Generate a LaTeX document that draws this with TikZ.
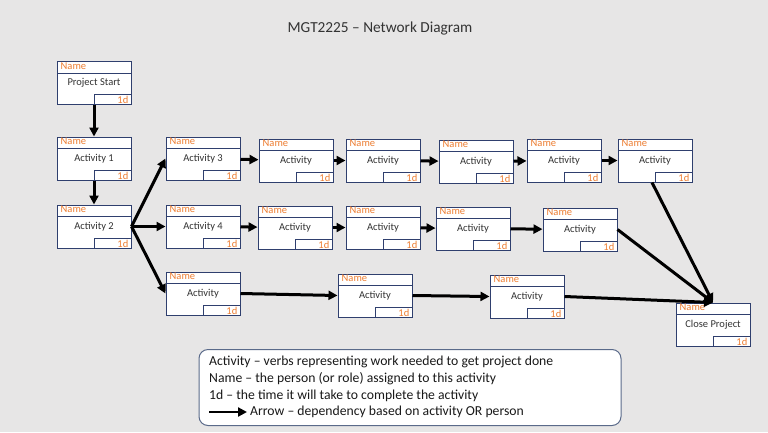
\documentclass[tikz,border=0pt]{standalone}
\usepackage{fontspec}
\setmainfont{Carlito}
\usetikzlibrary{arrows.meta,positioning}
\definecolor{bggray}{HTML}{E7E6E6}
\definecolor{boxline}{HTML}{2F3F6E}
\definecolor{nameorange}{HTML}{ED7D31}
\definecolor{txtgray}{HTML}{333333}
\definecolor{keyline}{HTML}{5A6A8A}

\begin{document}
\begin{tikzpicture}[x=1pt, y=-1pt,
  smallorange/.style={inner sep=0pt, text=nameorange, font=\fontsize{10.5}{12}\selectfont},
  actbox/.style={draw=boxline, line width=1pt, fill=white, minimum width=74pt, minimum height=43pt,
    inner sep=0pt, text=txtgray, font=\fontsize{10.5}{12}\selectfont,
    label={[smallorange, anchor=north west, xshift=4pt, yshift=-1.2pt]north west:Name},
    label={[smallorange, anchor=south east, xshift=-3pt, yshift=1pt]south east:1d},
    path picture={
      \draw[boxline, line width=1pt] ([yshift=-11.5pt]path picture bounding box.north west)
        -- ([yshift=-11.5pt]path picture bounding box.north east);
      \draw[boxline, line width=1pt] ([xshift=-37pt]path picture bounding box.south east)
        rectangle ([yshift=10pt]path picture bounding box.south east);
    }},
  dep/.style={-{Triangle[length=9pt,width=9pt]}, line width=3pt},
  keytext/.style={anchor=west, inner sep=0pt, font=\fontsize{13.7}{15}\selectfont, text=black!90}
]
\useasboundingbox[fill=bggray] (0,0) rectangle (768,432);

% title
\node[font=\fontsize{15.3}{17}\selectfont, text=txtgray] (title) at (380,28) {MGT2225 – Network Diagram};

% --------- LEFT COLUMN ----------
\node[actbox] (start) at (94,83) {Project Start};
\node[actbox] (act1) at (94,158.5) {Activity 1};
\node[actbox] (act2) at (94,226.5) {Activity 2};

% --------- ROW 1 ----------
\node[actbox] (act3) at (203,158.5) {Activity 3};
\node[actbox] (r1b) at (296,160.5) {Activity};
\node[actbox] (r1c) at (383,160.5) {Activity};
\node[actbox] (r1d) at (476,161.5) {Activity};
\node[actbox] (r1e) at (564,160.5) {Activity};
\node[actbox] (r1f) at (655,160.5) {Activity};

% --------- ROW 2 ----------
\node[actbox] (act4) at (203,226.5) {Activity 4};
\node[actbox] (r2b) at (295,227.5) {Activity};
\node[actbox] (r2c) at (383,227.5) {Activity};
\node[actbox] (r2d) at (473,228.5) {Activity};
\node[actbox] (r2e) at (580,229.5) {Activity};

% --------- ROW 3 ----------
\node[actbox] (r3a) at (203,293.5) {Activity};
\node[actbox] (r3b) at (375,295.5) {Activity};
\node[actbox] (r3c) at (527,296.5) {Activity};

\node[actbox] (close) at (713,324.5) {Close Project};

% dependencies
\draw[dep] (start) -- (act1);
\draw[dep] (act1) -- (act2);
\draw[dep] (act2.east) -- (act3.west);
\draw[dep] (act2.east) -- (act4.west);
\draw[dep] (act2.east) -- (r3a.west);

\draw[dep] (act3) -- (r1b);
\draw[dep] (r1b) -- (r1c);
\draw[dep] (r1c) -- (r1d);
\draw[dep] (r1d) -- (r1e);
\draw[dep] (r1e) -- (r1f);

\draw[dep] (act4) -- (r2b);
\draw[dep] (r2b) -- (r2c);
\draw[dep] (r2c) -- (r2d);
\draw[dep] (r2d) -- (r2e);

\draw[dep] (r3a.east) -- (r3b.west);
\draw[dep] (r3b.east) -- (r3c.west);

\draw[dep] ([xshift=-3pt]r1f.south) -- (close.north);
\draw[dep] (r2e.east) -- (close.north);
\draw[dep] (r3c.east) -- (close.north);

% key
\node[draw=keyline, line width=1pt, fill=white, rounded corners=9pt, minimum width=422pt, minimum height=76pt]
  (legend) at (410,387.5) {};
\node[keytext] (k1) at (209,362) {Activity – verbs representing work needed to get project done};
\node[keytext] (k2) at (209,379) {Name – the person (or role) assigned to this activity};
\node[keytext] (k3) at (209,396) {1d – the time it will take to complete the activity};
\coordinate (keyL) at (209,412);
\coordinate (keyR) at (247,412);
\draw[dep, line width=2.4pt] (keyL) -- (keyR);
\node[keytext] (k4) at (250,412) {Arrow – dependency based on activity OR person};

\end{tikzpicture}
\end{document}
